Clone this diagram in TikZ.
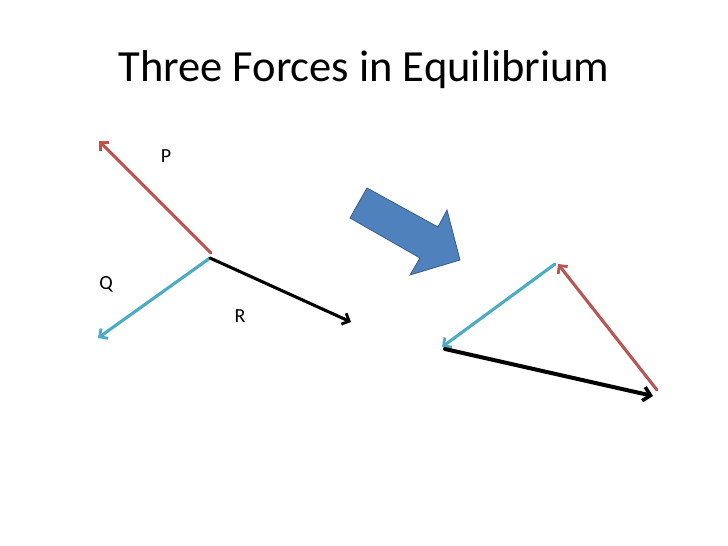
\documentclass[tikz,border=0pt]{standalone}
\usepackage{fontspec}
\setmainfont{Carlito}
\usetikzlibrary{arrows.meta}
\definecolor{pred}{HTML}{C0504D}
\definecolor{qcyan}{HTML}{4BACC6}
\definecolor{bfill}{HTML}{4F81BD}
\definecolor{bline}{HTML}{385D8A}
\tikzset{
  force/.style={line width=3.1pt, line cap=round, -{Straight Barb[length=6pt,width=12pt,line width=2.8pt]}},
  bigforce/.style={line width=4pt, line cap=round, -{Straight Barb[length=7pt,width=14pt,line width=3.6pt]}},
  lbl/.style={font=\fontsize{20}{24}\selectfont, inner sep=0pt}
}
\begin{document}
\begin{tikzpicture}[x=1pt,y=-1pt]
\useasboundingbox (0,0) rectangle (728,546);
\node[font=\fontsize{44.5}{52}\selectfont, inner sep=0pt] (title) at (364,70) {Three Forces in Equilibrium};
% left figure
\coordinate (O) at (210,258);
\coordinate (Ored) at (211,253);
\coordinate (Ptip) at (99,141);
\coordinate (Qtip) at (98,338);
\coordinate (Rtip) at (351,322);
\draw[force, pred] (Ored) -- (Ptip);
\draw[force, qcyan] (O) -- (Qtip);
\draw[force, black] (O) -- (Rtip);
\node[lbl] (P) at (166,156) {P};
\node[lbl] (Q) at (106,284) {Q};
\node[lbl] (R) at (240,316) {R};
% block arrow
\filldraw[fill=bfill, draw=bline, line width=0.8pt]
  (367,188) -- (438,227) -- (447,210) -- (460,260) -- (410,275) -- (420,258) -- (350,218) -- cycle;
% triangle
\coordinate (T) at (555,264);
\coordinate (A) at (442,347);
\coordinate (A2) at (445,349);
\coordinate (B) at (653,396);
\coordinate (B2) at (657,390);
\coordinate (T2) at (558,264);
\draw[force, qcyan] (T) -- (A);
\draw[bigforce, black] (A2) -- (B);
\draw[force, pred!85!gray] (B2) -- (T2);
\end{tikzpicture}
\end{document}
